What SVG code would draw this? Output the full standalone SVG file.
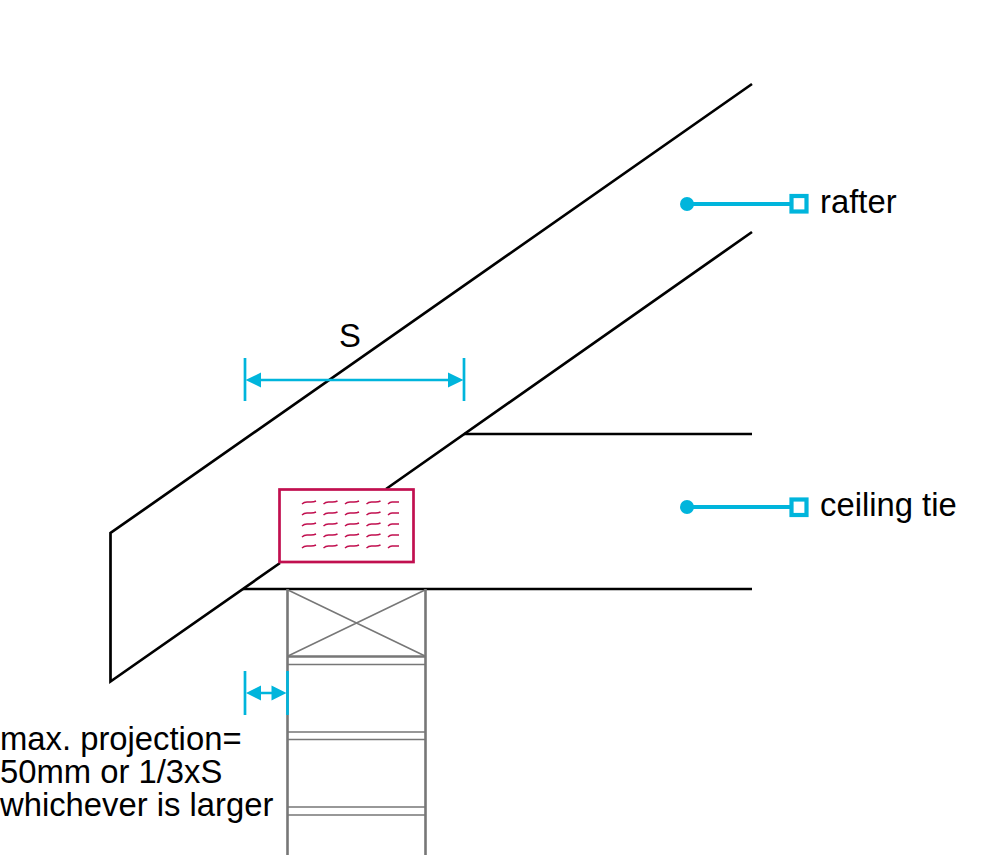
<svg xmlns="http://www.w3.org/2000/svg" width="1000" height="859" viewBox="0 0 1000 859">
<style>
.k{fill:none;stroke:#000;stroke-width:2.7}
.g{fill:none;stroke:#777;stroke-width:2.6}
.gt{fill:none;stroke:#777;stroke-width:1.5}
.c{fill:none;stroke:#00b5dc;stroke-width:2.7}
.cl{fill:none;stroke:#00b5dc;stroke-width:4.2}
.a{fill:#00b5dc;stroke:none}
.m{fill:none;stroke:#c10f4f;stroke-width:1.4}
text{font-family:"Liberation Sans",Arial,sans-serif;font-size:32.8px;fill:#000}
</style>
<rect width="1000" height="859" fill="#fff"/>
<g id="rafter">
<path class="k" d="M752 84L110.500 533V681.500L280 563M386 489L752 232"/>
</g>
<g id="ceiling-tie">
<path class="k" d="M464 434H752M243 589H752"/>
</g>
<g id="wall">
<path class="g" d="M287.500 589V855M425.500 589V855M287 656.500H425"/>
<path class="gt" d="M288 590L425 656M425 590L288 656M288 664.500H425M288 732H425M288 739.500H425M288 807H425M288 815H425"/>
</g>
<g id="plate">
<rect x="279.500" y="489.500" width="134" height="72.500" fill="#fff" stroke="#c10f4f" stroke-width="2.7"/>
<path class="m" d="M302 504q2-2 5-2h4q3 0 5-1M323.500 504q2-2 5-2h4q3 0 5-1M345 504q2-2 5-2h4q3 0 5-1M366.500 504q2-2 5-2h4q3 0 5-1M388 504q2-2 4-2h7"/>
<path class="m" d="M302 515q2-2 5-2h4q3 0 5-1M323.500 515q2-2 5-2h4q3 0 5-1M345 515q2-2 5-2h4q3 0 5-1M366.500 515q2-2 5-2h4q3 0 5-1M388 515q2-2 4-2h7"/>
<path class="m" d="M302 526q2-2 5-2h4q3 0 5-1M323.500 526q2-2 5-2h4q3 0 5-1M345 526q2-2 5-2h4q3 0 5-1M366.500 526q2-2 5-2h4q3 0 5-1M388 526q2-2 4-2h7"/>
<path class="m" d="M302 537q2-2 5-2h4q3 0 5-1M323.500 537q2-2 5-2h4q3 0 5-1M345 537q2-2 5-2h4q3 0 5-1M366.500 537q2-2 5-2h4q3 0 5-1M388 537q2-2 4-2h7"/>
<path class="m" d="M302 548q2-2 5-2h4q3 0 5-1M323.500 548q2-2 5-2h4q3 0 5-1M345 548q2-2 5-2h4q3 0 5-1M366.500 548q2-2 5-2h4q3 0 5-1M388 548q2-2 4-2h7"/>
</g>
<g id="connectors">
<path class="c" d="M245 358V401M464 358V401M258 380H451"/>
<path class="a" d="M245.500 380L261 372.500V387.500ZM463.500 380L448 372.500V387.500Z"/>
<path class="c" d="M245 671V715M287.500 671V715M258 693H275"/>
<path class="a" d="M246 693L261 685.500V700.500ZM286.500 693L271.500 685.500V700.500Z"/>
<path class="cl" d="M687 204H790M687 507H790"/>
<circle class="a" cx="687" cy="204" r="7"/>
<circle class="a" cx="687" cy="507" r="7"/>
<rect x="791.500" y="196" width="15" height="15.500" fill="#fff" stroke="#00b5dc" stroke-width="4.200"/>
<rect x="791.500" y="499.500" width="15" height="15.500" fill="#fff" stroke="#00b5dc" stroke-width="4.200"/>
</g>
<g id="labels">
<text x="820" y="213">rafter</text>
<text x="820" y="516">ceiling tie</text>
<text x="339" y="347">S</text>
<text x="0" y="750">max. projection=</text>
<text x="0" y="783">50mm or 1/3xS</text>
<text x="0" y="816">whichever is larger</text>
</g>
</svg>
